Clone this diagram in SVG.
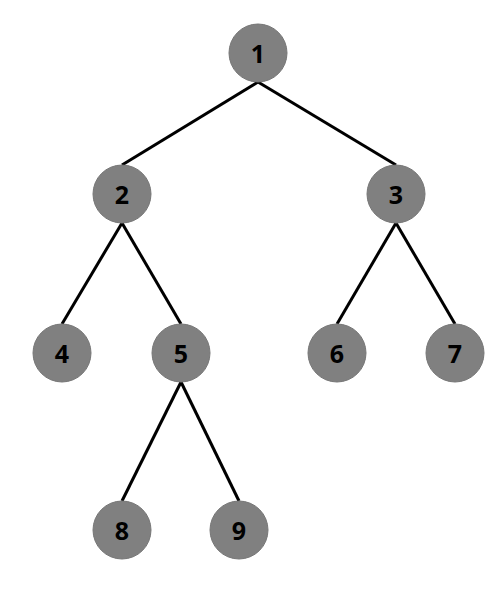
<svg xmlns="http://www.w3.org/2000/svg" width="500" height="596" viewBox="0 0 500 596">
<style>
.n circle{fill:#808080;stroke:#767676;stroke-width:1}
.n text{font-family:"Open Sans",sans-serif;font-weight:bold;font-size:25px;fill:#000;text-anchor:middle;dominant-baseline:central}
#edges line{stroke:#000;stroke-width:3}
</style>
<rect width="500" height="596" fill="#fff"/>
<g id="edges">
<line x1="258" y1="82" x2="122" y2="165"/>
<line x1="258" y1="82" x2="396" y2="165"/>
<line x1="122" y1="223" x2="62" y2="324"/>
<line x1="122" y1="223" x2="181" y2="324"/>
<line x1="396" y1="223" x2="337" y2="324"/>
<line x1="396" y1="223" x2="455" y2="324"/>
<line x1="181" y1="382" x2="122" y2="501"/>
<line x1="181" y1="382" x2="239" y2="501"/>
</g>
<g id="n1" class="n"><circle cx="258" cy="53" r="29"/><text x="258" y="53">1</text></g>
<g id="n2" class="n"><circle cx="122" cy="194" r="29"/><text x="122" y="194">2</text></g>
<g id="n3" class="n"><circle cx="396" cy="194" r="29"/><text x="396" y="194">3</text></g>
<g id="n4" class="n"><circle cx="62" cy="353" r="29"/><text x="62" y="353">4</text></g>
<g id="n5" class="n"><circle cx="181" cy="353" r="29"/><text x="181" y="353">5</text></g>
<g id="n6" class="n"><circle cx="337" cy="353" r="29"/><text x="337" y="353">6</text></g>
<g id="n7" class="n"><circle cx="455" cy="353" r="29"/><text x="455" y="353">7</text></g>
<g id="n8" class="n"><circle cx="122" cy="530" r="29"/><text x="122" y="530">8</text></g>
<g id="n9" class="n"><circle cx="239" cy="530" r="29"/><text x="239" y="530">9</text></g>
</svg>
